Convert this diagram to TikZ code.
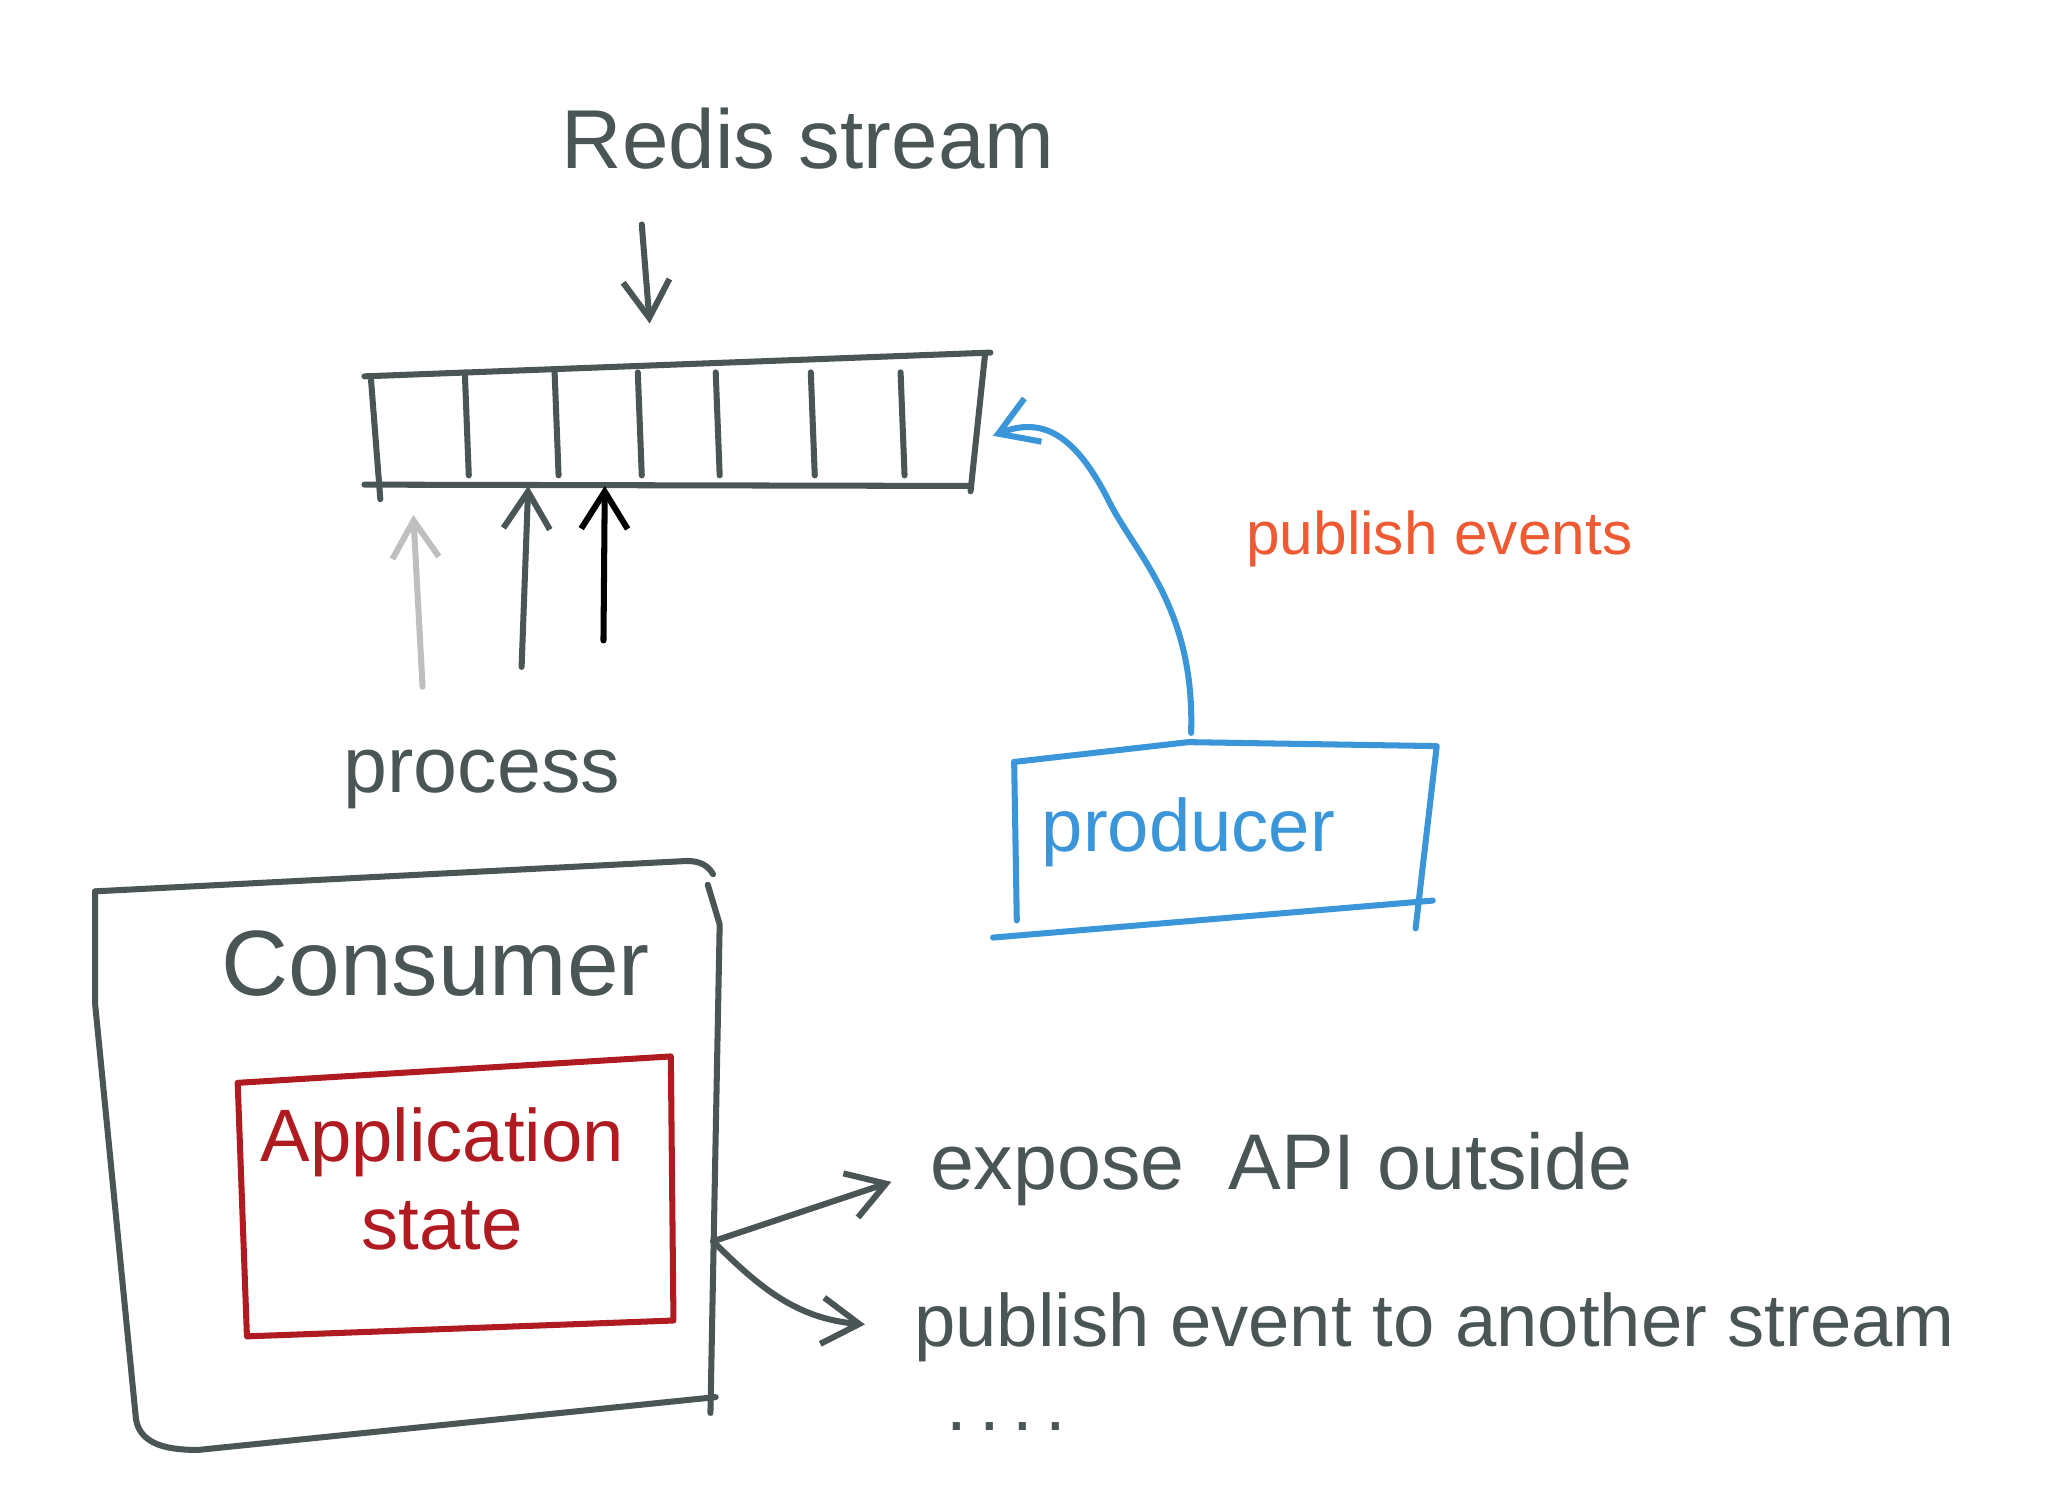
\documentclass[tikz,border=0pt]{standalone}
\usepackage{fontspec}
\setmainfont{Liberation Sans}
\usetikzlibrary{arrows.meta}
\definecolor{ink}{HTML}{4A5556}
\definecolor{rd}{HTML}{B01B22}
\definecolor{bl}{HTML}{3A96D8}
\definecolor{org}{HTML}{EE5A32}
\begin{document}
\begin{tikzpicture}[x=0.01cm,y=-0.01cm,line width=1.3pt,line cap=round,line join=round,
  arr/.style={-{Straight Barb[length=8pt,width=10pt]}},
  t/.style={inner sep=0pt,text=ink}]
\useasboundingbox (0,0) rectangle (1560,1130);
\node[t,font=\fontsize{18}{20}\selectfont] (redis) at (612,105) {Redis stream};
\coordinate (qin) at (492,245);
\draw[ink,arr] (486,170) -- (qin);
% queue
\draw[ink] (276,285) -- (750,267);
\draw[ink] (276,367) -- (735,368);
\draw[ink] (281,288) -- (288,378);
\draw[ink] (746,268) -- (735,372);
\foreach \x in {352,420,483,542,614,682}{\draw[ink] (\x,282) -- (\x+3,360);}
\coordinate (q1) at (313,390); \coordinate (q2) at (400,368); \coordinate (q3) at (458,368);
\coordinate (p1) at (320,520); \coordinate (p2) at (395,505); \coordinate (p3) at (457,485);
\draw[black!25,arr] (p1) -- (q1);
\draw[ink,arr] (p2) -- (q2);
\draw[black,arr] (p3) -- (q3);
\node[t,font=\fontsize{17}{20}\selectfont] (proc) at (365,590) {process};
% consumer
\draw[ink] (72,675) -- (520,652) to[out=0,in=120] (540,662);
\draw[ink] (72,675) -- (72,760) -- (103,1075) to[out=-80,in=180] (150,1098) -- (542,1058);
\draw[ink] (536,670) -- (545,700) -- (538,1070);
\node[t,font=\fontsize{20}{24}\selectfont] (cons) at (330,730) {Consumer};
\draw[rd] (180,820) -- (508,800) -- (510,1000) -- (187,1012) -- cycle;
\node[t,text=rd,font=\fontsize{16}{19}\selectfont,align=center] (app) at (335,893) {Application\\state};
\coordinate (c) at (540,940);
\coordinate (e1) at (675,895);\coordinate (e2) at (655,1003);
\draw[ink,arr] (c) -- (e1);
\draw[ink,arr] (c) to[out=-45,in=175] (e2);
\node[t,anchor=west,font=\fontsize{17}{20}\selectfont] (exp) at (702,885) {expose\ \ API outside};
\node[t,anchor=west,font=\fontsize{16}{20}\selectfont] (pub) at (690,1005) {publish event to another stream};
\node[t,font=\fontsize{16}{20}\selectfont] (dots) at (762,1080) {.\,.\,.\,.};
% producer
\draw[bl] (768,577) -- (900,562) -- (1088,565) -- (1072,703);
\draw[bl] (768,577) -- (770,697);
\draw[bl] (752,710) -- (1085,682);
\node[t,text=bl,font=\fontsize{16}{19}\selectfont] (prod) at (900,630) {producer};
\coordinate (pout) at (902,555);
\coordinate (qr) at (752,330);
\draw[bl,arr] (pout) .. controls (905,460) and (860,420) .. (840,380) .. controls (815,330) and (790,315) .. (qr);
\node[t,text=org,font=\fontsize{13}{16}\selectfont] (pe) at (1090,408) {publish events};
\end{tikzpicture}
\end{document}
